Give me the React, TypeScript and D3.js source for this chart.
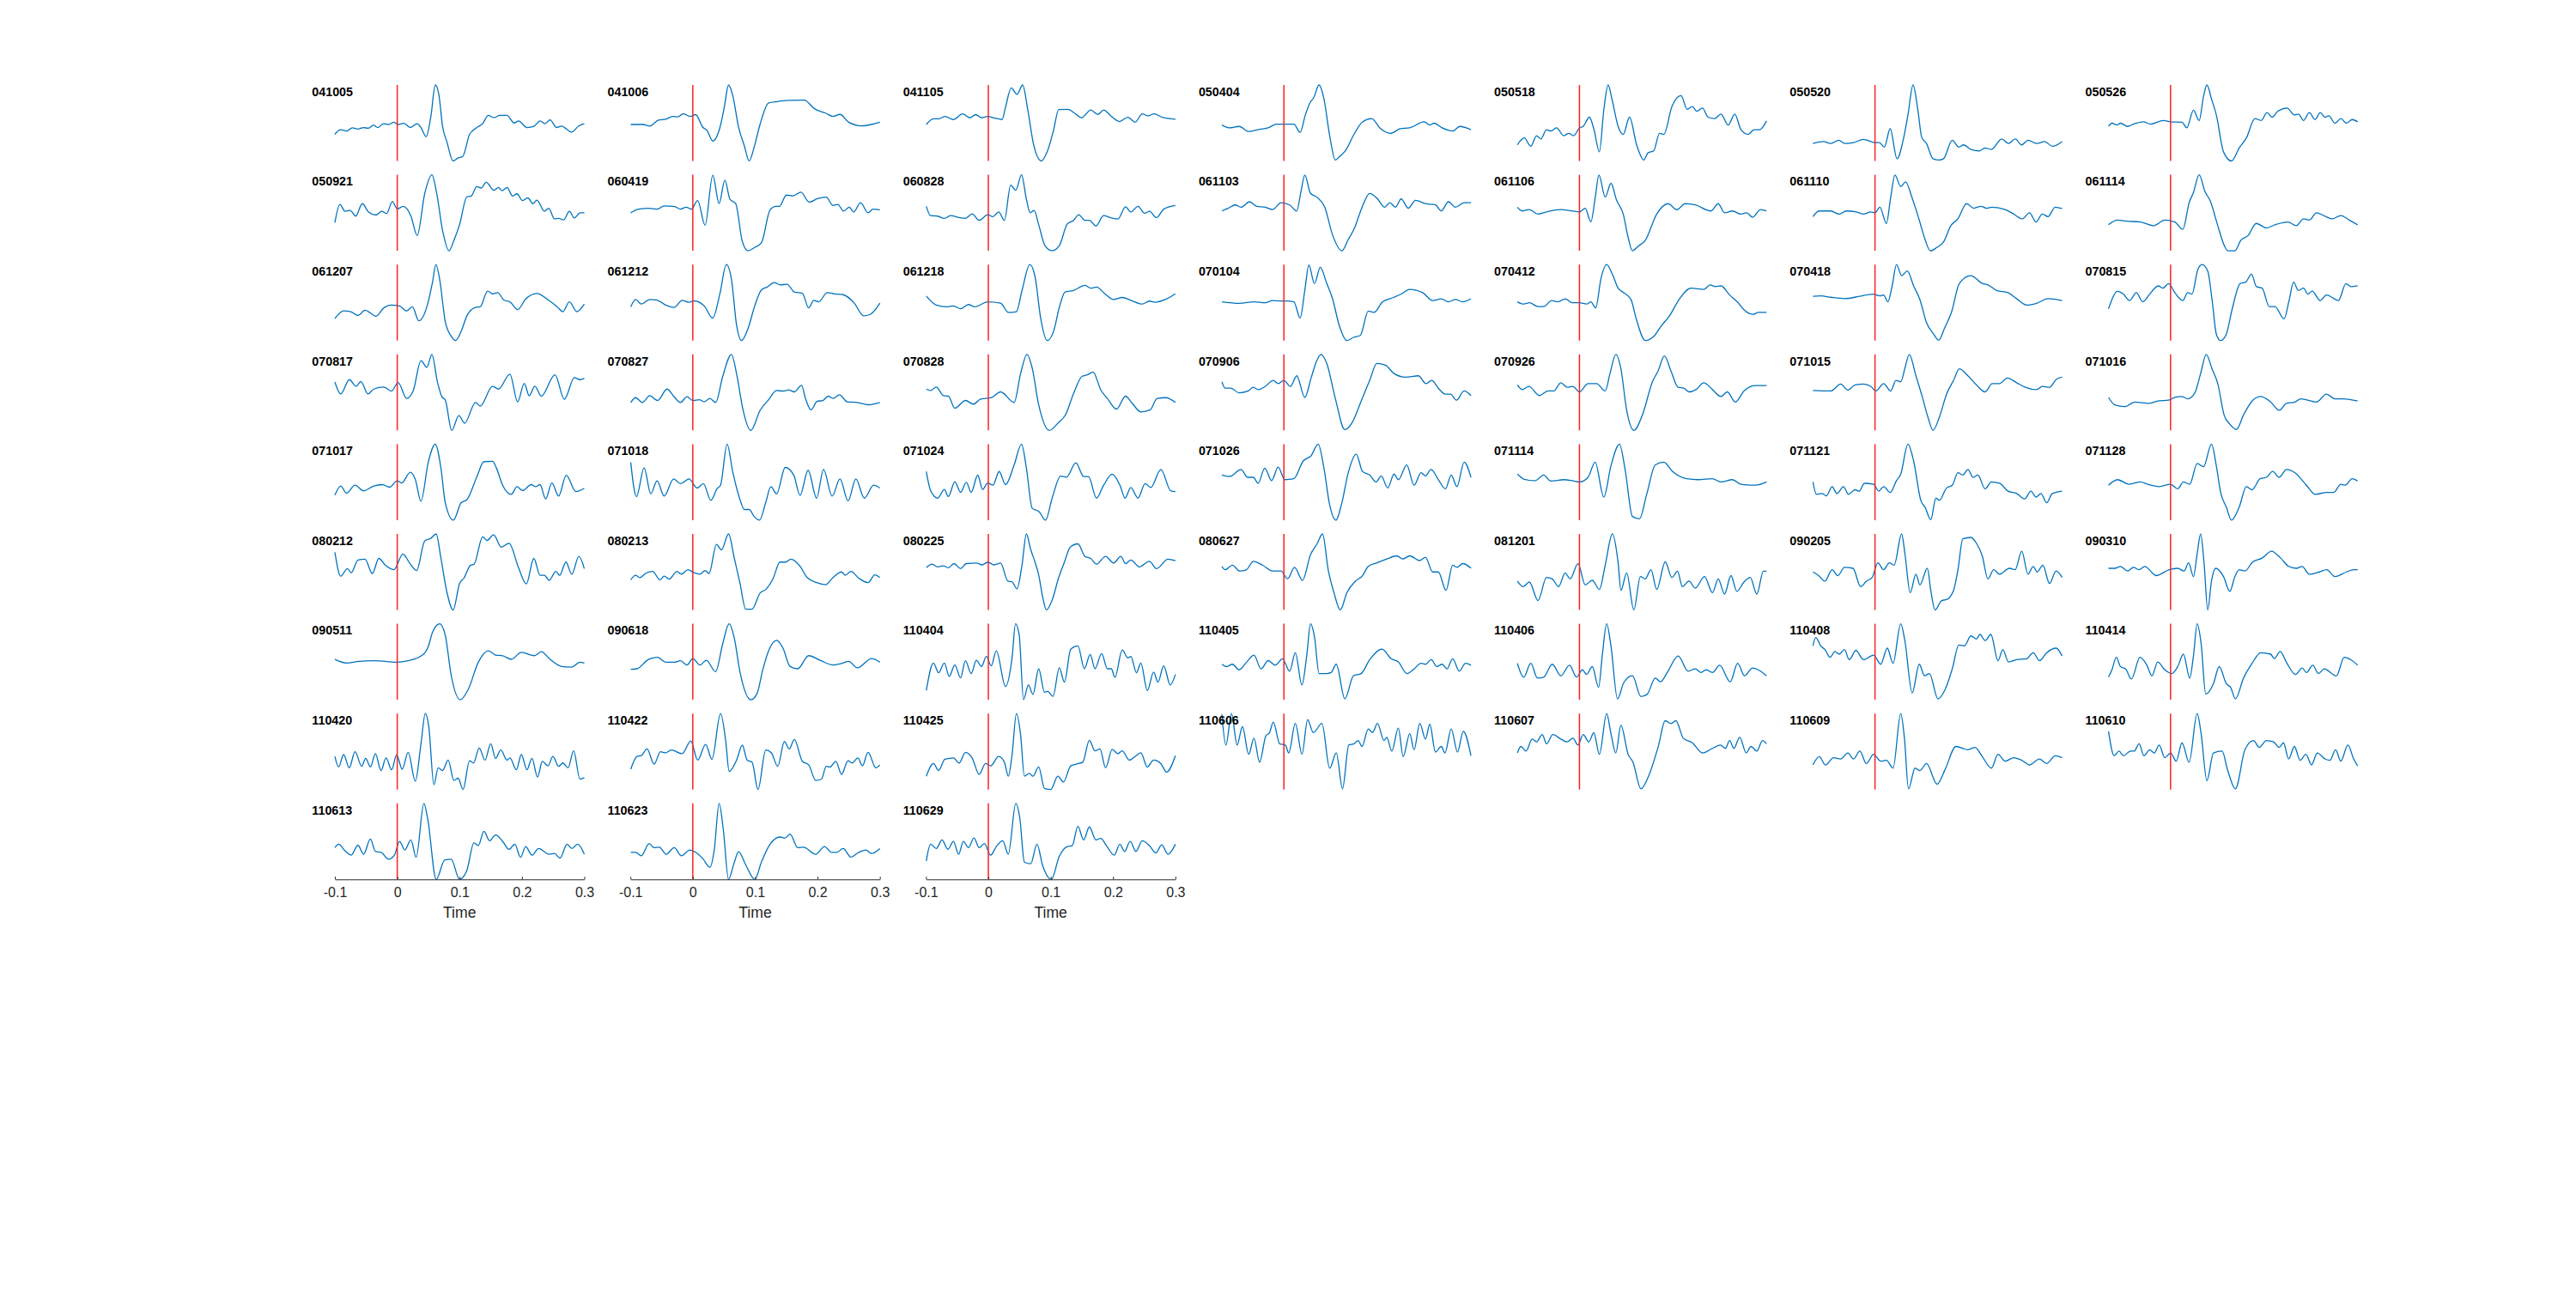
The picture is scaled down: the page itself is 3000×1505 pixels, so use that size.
import React, { useEffect, useRef } from "react";
import * as d3 from "d3";

type Pt = [number, number]; // [time in ms, amplitude scaled 0..100 within its panel]

// one trace per event at its turning points
const w041005: Pt[] = [[-100,35],[-91,41],[-81,39.5],[-72,43.6],[-63,42],[-54,44],[-47,43],[-38,47],[-31,44],[-22,49],[-14,48],[-5.5,51],[1.4,48],[10.6,49.6],[21,44],[32,49],[38,44],[46.4,32],[54,59],[61,100],[67,86],[72.6,46],[79.5,25.6],[89.6,0],[98,4],[105,6],[116,35],[127.6,44],[136.8,49],[146,60],[155,57],[164.6,60],[176,60],[187.6,50],[194.5,52.6],[208,44],[219.8,46],[229,52.6],[237,49],[245,54],[255.6,44],[263.4,46],[279.5,38],[291,46],[300,49]];
const w041006: Pt[] = [[-99.5,48],[-80,48],[-69,46],[-55,53.8],[-43.6,55],[-32,58.6],[-24,58],[-15,62.4],[-4.6,58.6],[4.6,61],[16,44.4],[23,40],[32,26.3],[43.6,44.4],[50.5,70.7],[57.3,100],[64.2,85.7],[73.4,44.4],[82.6,20],[90.4,0],[98.6,18.8],[107.8,48],[121.6,76.3],[135.3,78.2],[153.7,79.7],[178.9,80],[195,68.8],[213,63],[224.8,58.6],[236,61.3],[250,51],[270.6,46.2],[300,51]];
const w041105: Pt[] = [[-99.5,48],[-88,55.6],[-79,55.6],[-69.7,58.6],[-56,54.5],[-41.3,62],[-29.4,56.8],[-20.2,61],[-11,56.8],[-1,58.6],[10.5,56.4],[22,54.5],[27.5,70.7],[36.7,96.2],[45.9,87.6],[55,100],[63.3,67],[72.5,21.8],[84.9,0],[95.4,14.3],[104.6,40.6],[112.8,67.7],[127.5,68],[139,62.4],[149.5,56.8],[164.2,67],[175.7,61.3],[184.9,67],[196.3,59.4],[210,51.9],[223.9,57.5],[235.3,51],[246.8,62],[256,59.4],[266,62],[279,57.5],[300,55]];
const w050404: Pt[] = [[-99.5,47.3],[-87,43.6],[-72,45.5],[-56.4,38.8],[-41.3,41.2],[-25.2,43.6],[-11.5,48.5],[16,48.5],[26,37.6],[34.4,60.6],[41.3,75.8],[48,83.6],[56.4,100],[64.2,81.8],[73.4,33.3],[82.6,1.2],[89.4,6],[98.6,13.3],[112.4,35],[126,51.5],[140.8,55.8],[153.7,43.6],[171,36.4],[186.7,42.4],[201.8,43.6],[224.8,51.5],[234,47.3],[240.8,49.7],[253.7,43.6],[270.6,39.4],[282,45.5],[300,41.2]];
const w050518: Pt[] = [[-99.5,21.2],[-88.5,30.3],[-78,19.4],[-68.8,33.3],[-62,29],[-52.8,41.2],[-45.9,39.4],[-36.7,43.6],[-25.2,33.3],[-17,36.4],[-9.2,33.3],[0,43.6],[6,45.5],[16,57.6],[23,42.4],[32,12],[39,66.7],[45.9,100],[52.8,78.8],[62,45.5],[70.2,35],[80.3,57.6],[91.7,21.2],[103.2,1.2],[110,10.9],[119,13.3],[128.4,36.4],[135.3,35],[148.2,71.5],[162.8,86],[172.9,67.9],[181,71.5],[188,65.5],[197.2,69.7],[206.4,57.6],[217,55.8],[227,61.8],[238.5,47.3],[249,61.8],[259,41.2],[270.6,35],[279.8,41.2],[289,41.2],[300,52.7]];
const w050520: Pt[] = [[-99.5,23],[-82.6,25.5],[-71,23],[-58.3,27.3],[-48,23],[-34.4,24.2],[-18.3,28.5],[0,24.2],[6.9,24.2],[15,18.2],[24.3,42.4],[35.3,3],[45.9,30.3],[52.8,60.6],[61,100],[68.8,66.7],[74.8,31.5],[82.6,23],[93,3],[103.2,1.2],[110,3],[123.9,27.3],[134.4,18.2],[142.2,21.2],[153.7,15.2],[167.4,13.3],[176.6,17],[186.7,15.2],[203.2,29],[214.2,23],[224.8,29],[235.3,21.2],[245.4,27.3],[259.2,23],[272,25.5],[284.4,19.4],[300,25.5]];
const w050526: Pt[] = [[-99.5,45.5],[-94,49.7],[-85.8,47.3],[-80.3,49.7],[-68.8,45.5],[-59.6,48.5],[-43.6,51.5],[-32,48.5],[-11.5,53.3],[0,51.5],[18.3,50.9],[26.1,43.6],[36.7,66.7],[45.9,53.3],[52.8,84.8],[58.3,100],[65.6,81.8],[73.4,60.6],[84.9,12],[97.7,0],[110,17],[121.6,30.3],[135.3,55.8],[145.4,53.3],[154.6,63.6],[162.8,57.6],[172,65.5],[186.7,69.7],[198.6,60.6],[205,61.8],[213.3,53.3],[222.5,63.6],[231.7,54.5],[240,63.6],[247.7,57.6],[253.7,59.4],[263.8,49.7],[273,55.8],[282,49.7],[291.3,54.5],[300,51.5]];

const w050921: Pt[] = [[-100,37],[-92,61],[-83.7,52],[-75.4,53],[-66.7,45.6],[-56,62],[-46,51],[-34,47],[-24.8,52],[-17,49],[-7.8,65],[0,55],[9.7,58.5],[22,45.6],[32,20],[44,75],[55.6,100],[63.4,75],[72.6,27],[83,0],[91,14],[100,34.4],[111.5,70.7],[118.6,72],[127.6,84.4],[134.6,82.6],[142.5,90],[155.4,79.6],[162.3,83.3],[168.3,79],[176,83.3],[185,72],[192,75],[201,66],[209.4,69.6],[217.5,62],[224,66.7],[236,52],[243,56],[252,42],[259,42.6],[267,40.7],[276,52],[284,43.3],[293.3,50],[300,50]];
const w060419: Pt[] = [[-99.5,50],[-87,54.8],[-71,56],[-57,54.8],[-46,58.9],[-30,58.5],[-19.7,54.8],[-10.5,57.4],[-2.3,54.8],[7.8,66],[19.7,33.7],[32,99.3],[42.2,62.2],[51.4,93],[59.6,67.8],[68.8,62.2],[79.4,12.2],[88.5,0],[98.6,4],[110,10.4],[123.9,53.7],[133,58.5],[139,58.5],[150,73.3],[160.5,72.2],[173.4,77],[186.7,64],[199.5,68.5],[214,70.7],[224.8,59.6],[232.6,61],[241.7,52.2],[251,57.4],[258,51],[269,63.3],[281,50],[289,54.8],[300,54]];
const w060828: Pt[] = [[-99.5,58.5],[-92.7,46.3],[-81.2,45.6],[-70.6,42.6],[-60.5,46.3],[-46.8,43.7],[-36.7,42.6],[-26,48.5],[-14.7,40],[-0.9,47.4],[7.3,44.8],[16.5,51],[25.7,40],[35.8,86.3],[44,79.6],[53.2,100],[61,67.8],[67,50],[73.4,53],[80.7,34.4],[90.8,6.7],[102.3,0],[113.8,6.7],[126.6,35.2],[136.7,40],[145,47.4],[155,40],[162,40],[172.5,32.6],[184.9,46.3],[195.4,43.7],[207.8,41.8],[220,57.8],[228.4,51],[240,58.5],[250.5,49.3],[258.3,51.9],[269.7,43.7],[281.2,54.8],[300,59.6]];
const w061103: Pt[] = [[-99.5,52.4],[-89.4,56],[-78,60.3],[-68.8,57.3],[-55,64.5],[-43.6,58.5],[-29.8,57.3],[-18.3,54.2],[-4.6,63.3],[9.2,60.3],[20.6,52.4],[27.5,78.5],[33.5,99.7],[42.7,75.5],[52.8,70.6],[65.6,57.3],[78,20.9],[93,0],[103.2,14.8],[113.3,30],[123.9,54.2],[137.6,75.5],[149,69.4],[162,57.3],[169.7,63.3],[178.9,57.3],[188,68.2],[199.5,56],[211,66.4],[227,62],[243,60.3],[252.3,52.4],[263.8,64.5],[275,57.3],[289,63.3],[300,63.3]];
const w061106: Pt[] = [[-99.5,57.3],[-91.7,52.4],[-80.3,54.2],[-66.5,48.2],[-52.8,51.2],[-29.8,54.2],[-11.5,52.4],[0,51.2],[9.2,56],[18.3,38],[25.2,69.4],[31.2,99.7],[41.3,70.6],[50.5,88.8],[59.6,66.4],[70.2,48.2],[78,17.9],[84.9,0],[94,5.8],[105.5,13.6],[123.9,48.2],[142.2,62],[156,54.2],[169.7,62],[185.8,60.3],[211,52.4],[222.5,62],[232.6,50],[245.4,52.4],[259,48.2],[268.3,50],[277.5,44],[290.4,54.2],[300,52.4]];
const w061110: Pt[] = [[-99.5,45],[-89.4,52.4],[-71,52.4],[-57.3,48.2],[-45.9,52.4],[-29.8,51.2],[-18.3,48.2],[-6.9,51.2],[0,50],[7.8,57.3],[18.3,36],[25.2,70.6],[32,99.7],[41.3,84.5],[49,90.6],[59.6,69.4],[71,40.3],[80.3,14.8],[88.5,0],[98.6,4],[110,11.8],[121.6,33],[133,42],[146.8,62],[158.3,56],[169.7,58.5],[178.9,56],[188,57.3],[208.7,54.2],[222.5,48.2],[236.2,42],[247.7,50],[258.3,37.9],[268.3,48.2],[277.5,45],[289,57.3],[300,55.5]];
const w061114: Pt[] = [[-99.5,34.2],[-85,40.3],[-71,39],[-48,37.9],[-27.5,33],[-9.2,40.3],[6.9,37.9],[19.7,28.2],[29.8,63.3],[36.7,76.7],[45.9,100],[55,78.5],[64.2,64.5],[75.7,33],[85.8,7.6],[91.7,0],[103.2,0],[112.4,13.6],[123.9,19.7],[137.6,36],[153.7,30],[167.4,34.2],[188,37.9],[201.8,33],[213.3,42],[222.5,40.3],[234,50],[245.4,46.4],[259,42],[273,46.4],[286.7,40.3],[300,34.2]];

const w061207: Pt[] = [[-100,29],[-86,39],[-74.5,38],[-63,33],[-51.5,40],[-34,32],[-21.6,43],[-10,46.7],[3.7,45.6],[15,39],[24.4,44.4],[34.5,26],[49.7,51],[56.6,77],[62,100],[68,80.7],[77,25],[86.4,6],[93.3,0],[102.5,12],[111.7,32.6],[125.5,43.7],[133,44.4],[145,65],[153,61.5],[161,63],[171.5,53],[180.7,51],[193,40.7],[206,54.8],[224,62],[242.8,53],[256.6,44.4],[265.7,38],[276,51],[288,38],[300,48]];
const w061212: Pt[] = [[-99.5,44.4],[-91.7,54],[-82.6,48],[-69,54],[-56.4,53],[-43.6,46.7],[-29.8,43.7],[-17,53],[-6.9,50.4],[2.3,52.2],[18.3,45.6],[32,29.6],[43.6,62.2],[53.7,100],[62,80.7],[70,21.5],[78,0],[89.4,17.8],[98.6,43.7],[110,66.7],[119,70.4],[130.7,76.3],[140,73.3],[151,74],[162.8,64],[175.7,62.2],[185.8,43],[194,53],[201.8,51],[215.6,63],[227,61.5],[240.8,60.4],[259,49.3],[273.9,32.6],[284.4,34.4],[300,49.3]];
const w061218: Pt[] = [[-99.5,58.5],[-83.5,46.7],[-67.4,44.4],[-56,45.6],[-44.5,41.9],[-32,47.4],[-21.6,44.4],[-1,51],[19.7,49.3],[32,37],[45,38],[54,66],[66.5,100],[74.8,84.4],[84,29],[94.5,0],[104.6,12.2],[113.8,43.7],[123,64],[136.7,66],[155,72.6],[164.2,68.9],[173.4,70.4],[187,61.5],[200.9,54],[214.7,56.7],[228.4,53],[246.8,48],[258.3,51.9],[267.4,50.4],[283.5,54],[300,61.5]];
const w070104: Pt[] = [[-99.5,51],[-71,49],[-48,51],[-29.8,49.7],[-18.3,52.7],[-2.3,52],[6,52],[16,51],[26.1,29.7],[33.5,66],[40,99.4],[49,75],[58.3,96.4],[68.8,75],[78,55],[88.5,20.6],[101,0],[111.5,4.2],[122.5,6.7],[135.3,38.8],[144.5,37],[158.3,51],[176.6,57],[188,61.2],[201.8,67.3],[222.5,63],[238.5,52.7],[252.3,55],[263.8,51],[275,54],[286.7,51],[300,55]];
const w070412: Pt[] = [[-99.5,51],[-89.4,48],[-80.3,49.7],[-66.5,44.8],[-57.3,44.8],[-44.5,52.7],[-34.4,51],[-23,55],[-11.5,49.7],[0,49.7],[11.5,48],[18.3,51],[26.1,43],[34.4,81.2],[43.6,100],[52.8,87.3],[62,69],[71,63],[82.6,54],[91.7,26.7],[105.5,0],[119.3,5.5],[130.7,18.8],[144.5,32.7],[160.5,55],[178.9,69],[199.5,67.3],[209.6,73.3],[217.9,71],[227,72],[240.8,60],[254.6,49.7],[263.8,40.6],[278.4,34.5],[286.7,37],[300,37]];
const w070418: Pt[] = [[-99.5,58.2],[-87,58.8],[-71,57],[-48,55.2],[-25.2,58.2],[-3.2,61.2],[7.8,58.8],[13.8,60],[20.6,51],[27.5,72],[34.4,100],[42.7,85.5],[51.8,91.5],[61.9,72],[72,54],[82.6,23.6],[94,8.5],[102.3,0.6],[111.5,16.4],[122.5,37],[135.3,75.2],[153.7,85.5],[172,75.2],[181,73.3],[195,66],[213.3,63],[227,55.2],[243,46.7],[259,49],[277.5,55.2],[300,52.7]];
const w070815: Pt[] = [[-99.5,41.8],[-94,54],[-85.8,64.8],[-75.7,61.2],[-65.6,52.7],[-55,63],[-44.5,51],[-34.4,60],[-19.7,72],[-12.4,69],[-3.2,75],[6.9,63],[19.7,52.7],[27.5,63],[34.4,61.2],[43.6,93.3],[50.5,100],[59.6,91.5],[66.5,54],[73.4,8.5],[80.3,0],[89.4,8.5],[98.6,40.6],[111.5,75],[120.6,77],[129.8,87.3],[137.6,71],[146.8,69],[158.3,44.8],[167.4,44.8],[182,28.5],[190.4,54],[197.2,77],[205,66],[213.3,69],[220,61.2],[227,65],[240,52.7],[250,60],[269.2,52.7],[281.2,75],[289,71],[300,72]];

const w070817: Pt[] = [[-100,63.7],[-90.6,48],[-76.8,66.7],[-66,58],[-58.4,64.4],[-47,48],[-37.7,54.3],[-21.6,57],[-9,51.7],[1.4,63],[15,42],[25.7,52.4],[38,91.8],[47.4,83],[55.6,100],[64.4,63.7],[71.7,44],[77,40],[87.4,0],[98.9,19.5],[108,9.4],[125.5,36.7],[133,32],[153,58],[162.3,54.3],[180.7,74],[193,37.5],[203.7,61.8],[211.5,45.7],[220.7,58],[231,45],[252.9,73],[268,41],[284,69.3],[293.3,66.7],[300,68.5]];
const w070827: Pt[] = [[-99.5,36.7],[-91.7,43],[-81,36.7],[-69,45.7],[-56.4,39.3],[-41.3,54.3],[-30.7,45],[-19.7,36.7],[-9.2,44.2],[0,39.3],[10.5,40.4],[18.3,37.5],[27.5,42],[36.7,36.7],[48,71],[62,100],[71,71],[80.3,28],[93,0],[107.8,26],[121.6,40.4],[134.4,52.4],[145.4,51.7],[153.7,53.2],[162.8,50.6],[174.3,59.2],[181,41.2],[189.4,27],[199.5,38.2],[208.7,39.3],[217,45],[224.8,42],[235.3,46.8],[247.7,37.5],[263.8,36.7],[282,33.7],[300,36.7]];
const w070828: Pt[] = [[-99.5,54.3],[-92.7,52.4],[-83.5,57],[-72,45.7],[-64.2,45],[-53.7,29.2],[-36.7,39.3],[-23.9,34.5],[-12.4,41.2],[4.6,43],[19.7,50.6],[41.3,36.7],[51.8,75],[62,100],[70.2,82.4],[80.7,33.7],[97.7,0],[111.5,9.4],[123.9,20.6],[136.7,48.7],[150.5,71.2],[158.7,73],[167.9,76.8],[180.3,53.2],[190.8,42],[205.5,28],[220,45],[230.7,35.6],[244.5,24.3],[259.6,27],[270.6,42],[284.4,43],[300,36.7]];
const w070906: Pt[] = [[-99.5,64],[-94,55.5],[-85,55.5],[-72,49.4],[-57.3,51.8],[-49,56.7],[-41.3,53.6],[-29.8,57.9],[-17,65.8],[-9.2,61.5],[0,65.8],[10.5,57.9],[20.6,71.8],[33.5,43.3],[43.6,68.8],[51.8,90],[59.6,100],[68.8,88],[82.6,41.5],[97.7,1],[110,11],[123.9,38.5],[137.6,65.8],[149,88],[162.8,85.8],[176.6,74.8],[195,70],[215.6,71.8],[228,61.5],[237,65.8],[247.7,55.5],[259,47.6],[267.4,47.6],[276.6,39.7],[289,51.8],[300,45.8]];
const w070926: Pt[] = [[-99.5,59.7],[-91.7,53.6],[-81,57.9],[-64.2,45.8],[-50.5,51.8],[-41.3,51.8],[-29.8,62.7],[-19.7,56.7],[-10.5,57.9],[0,50.6],[13.8,61.5],[27.5,61.5],[41.3,51.8],[49,74.8],[58.3,100],[66.5,80.9],[75.7,26.4],[87.2,0],[101,20.3],[117,64],[126,78],[136.2,97.9],[146.8,78],[158.3,56.7],[167.4,55.5],[175.7,50.6],[186.7,53.6],[199.5,62.7],[211,55.5],[227,44.5],[237,50.6],[250,37.3],[263.8,51.8],[282,59],[300,59]];
const w071015: Pt[] = [[-99.5,52.4],[-71,51.8],[-55,60.9],[-43.6,53],[-32,59.7],[-18.3,60.9],[-6.9,57.9],[1.4,51.8],[13.8,61.5],[25.2,51.8],[33.5,65.8],[41.3,64],[48,82],[55,100],[65.6,71.8],[75.7,44.5],[84.9,17.3],[93,0],[103.2,17.3],[114.7,47.6],[126,65.8],[135.3,80.9],[149,71.8],[162.8,59.7],[176.6,50.6],[188,61.5],[199.5,61.5],[212.4,68.8],[227,62.7],[240.8,56.7],[259,53.6],[268.3,57.9],[279.8,56.7],[291.3,67.6],[300,70]];
const w071016: Pt[] = [[-99.5,43.3],[-89.4,33.6],[-73.4,31.2],[-57.3,37.3],[-34.4,35.5],[-20.6,38.5],[-3.2,39.7],[6.9,43.3],[18.3,44.5],[27.5,41.5],[39,49.4],[48.2,74.8],[57.3,100],[66.5,80.9],[75.7,61.5],[85.8,20.3],[95,8.2],[105.5,1],[117,20.3],[130.7,38.5],[144.5,44.5],[160.5,37.3],[174.3,26.4],[185.8,35.5],[199.5,37.3],[208.7,41.5],[233.9,37.3],[250,47.6],[263.8,41.5],[277.5,41.5],[300,38.5]];

const w071017: Pt[] = [[-100,32.8],[-90.6,45],[-81.4,35.5],[-67.6,46],[-54,38.5],[-37.7,45],[-24,46.8],[-12.4,43.4],[0,51.7],[7,49],[21,63],[29,53.6],[38,25],[49.7,76],[61,100],[70,68.7],[77,23],[90,0],[102.5,23],[111.7,27],[127.6,57],[139,77],[153,77.4],[159,68.7],[169,46],[183,34],[192,44],[201,39],[215,46.8],[222,44],[229,46.8],[238,28],[248,49],[258.8,31.7],[271,59],[286.4,37.7],[300,42]];
const w071018: Pt[] = [[-99.5,76],[-90.4,31],[-78,68.7],[-67.4,34.7],[-57.3,51.7],[-45.9,31.7],[-30.7,54.3],[-19.7,48],[-6,54.3],[6.9,42.3],[17,48],[28.9,26],[39,41.5],[44.5,46],[55,100],[64.2,63],[75.7,27],[82.6,14],[90.4,14],[98.6,4.5],[106.9,0],[117,23.4],[125.2,44],[134.4,34.7],[148.2,69.4],[162,59],[172,32.8],[184.9,65.7],[198.6,29],[209.6,66.8],[223.4,31.7],[236,54.3],[249,25.3],[261.5,54.3],[275,29],[290,46],[300,42.3]];
const w071024: Pt[] = [[-99.5,64],[-92.7,39.2],[-81.2,29],[-70.6,40.4],[-64.2,31],[-53.7,50.6],[-44.5,36.6],[-35.3,49.8],[-27.5,36.6],[-17,59.2],[-9.2,40.4],[-1,49],[7.3,46],[17.4,64],[27.5,46.8],[41.3,72.5],[53.2,100],[61,68.7],[70.2,15.8],[81.7,11],[91.7,0],[102.3,29],[116,58],[125.2,56.6],[140.4,75.5],[152.8,57.4],[160.6,57.4],[173.4,29],[184.9,46],[198.6,60.4],[211,46],[219.3,29],[228.4,43],[240,29],[251.4,48],[260.6,43],[276.6,66.8],[292.7,38.5],[300,37.7]];
const w071026: Pt[] = [[-99.5,59.4],[-87,57.6],[-68.8,66.7],[-58.3,56.4],[-49,56.4],[-41.3,48.5],[-30.7,68.5],[-19.7,52],[-9.2,69.7],[1.4,53.3],[16,54.5],[30.7,77.6],[43.6,84.8],[55,100],[64.2,68.5],[73.4,20],[83.5,0],[93,23],[103.2,62.4],[116,86.7],[126,64.2],[137.6,59.4],[148,50.3],[156,58.2],[166.5,42.4],[176.6,60.6],[183.5,53.3],[197,72.7],[208.7,46],[220,62.4],[227,58.2],[236,66.7],[247.7,53.3],[259,41.2],[268.3,59.4],[277.5,44.2],[289,76.4],[300,56.4]];
const w071114: Pt[] = [[-99.5,60.6],[-87,53.3],[-71,52],[-57.3,59.4],[-45.9,51.5],[-25.2,53.3],[-11.5,52],[0,50.3],[13.8,56.4],[25.2,76.4],[39,30.3],[50.5,71.5],[64.2,100],[73.4,65.5],[84.9,4.8],[96.3,1.8],[107.8,33.9],[121.6,72.7],[135.3,76.4],[149,64.2],[172,54.5],[190.4,53.3],[213,54.5],[227,50.3],[245.4,53.3],[259,47.3],[282,46],[300,50.3]];
const w071121: Pt[] = [[-99.5,50.3],[-94,34],[-85,35],[-78,32],[-68.8,44.2],[-61,35],[-50.5,44.2],[-42.7,34],[-32,40],[-25.2,38.2],[-17,48.5],[-2.3,47.3],[6,38.2],[13.8,44.2],[24.3,36.4],[34.4,52],[41.3,60.6],[52.8,100],[62,77.6],[73.4,26],[80.3,17],[89.4,0.6],[97.7,29],[103.2,26],[114.7,42.4],[123.9,46],[133,62.4],[140.8,59.4],[149,66.7],[157.3,56.4],[165,59.4],[176.6,41.2],[186.7,50.3],[199.5,48.5],[213.3,38.2],[227,35],[240,27.9],[250,38.2],[258.3,30.3],[266,35],[275.2,23],[284.4,35],[300,38.2]];
const w071128: Pt[] = [[-99.5,46],[-85,53.3],[-66.5,47.3],[-48.2,50.3],[-36.7,47.3],[-18.3,44.2],[0,47.3],[11.5,41.2],[20.6,50.3],[30.7,47.3],[42.7,74.5],[52.8,70.3],[65.6,100],[73.4,71.5],[80.3,36.4],[89.4,17],[97.7,0],[110,17],[121.6,44.2],[130.7,40],[143.6,54.5],[153.7,56.4],[163.8,64.2],[174.3,56.4],[185.8,66.7],[199.5,62.4],[217.9,46],[231.7,34],[250,36.4],[261.5,36.4],[273,47.3],[280,46],[291.3,54.5],[300,51.5]];

const w080212: Pt[] = [[-100,76],[-90.6,44.4],[-80,54.4],[-73.8,49],[-63,65.6],[-51.7,66.7],[-40,48],[-29.4,67.8],[-19.3,59],[-5.5,53],[9.2,73.7],[19.8,61.8],[31,51.8],[44,90.7],[54,94.4],[62.4,100],[70,68.5],[79.5,24],[89.6,0],[100,35],[107,41.8],[117.7,59],[123,60],[137,96.3],[144,91.5],[154.5,98.9],[167,82.6],[179.3,87.8],[194.5,55.6],[207,34.4],[219,67.8],[229,45.6],[236,45.6],[243.7,39],[254.3,50.7],[260.4,45.6],[270.6,63],[279.8,47],[291.3,70.4],[300,54.4]];
const w080213: Pt[] = [[-99.5,39.6],[-91.7,45.6],[-84.9,42.6],[-75.7,48],[-64.2,50.7],[-52.8,39.6],[-45.9,44.4],[-38,40.7],[-25.2,50.7],[-18.3,47],[-7.8,53],[1.4,49.3],[11.5,47],[19.7,51.9],[26,48],[38,86.3],[45.9,78.9],[57.3,100],[66.5,68.5],[75.7,35.2],[84.9,1],[95,1],[107.8,22.2],[117,27],[128.4,40.7],[139.9,63],[149,63],[157.3,66.7],[172,57.4],[183.5,42.6],[198.6,36],[213,33.3],[224.8,42.6],[238.5,50],[244.5,45.6],[253.7,50.7],[266,41.9],[281,36],[292,46.3],[300,42.6]];
const w080225: Pt[] = [[-99.5,55.6],[-90.4,60.4],[-81.2,56.7],[-72,58],[-64.2,55.6],[-55,61],[-44.5,54.4],[-35.3,61],[-19.3,61.8],[-10,59.3],[-1,63],[9.2,59.3],[19.7,61.8],[31.2,38],[38,37],[45.9,27.8],[54,59.3],[61,100],[67.9,79.6],[74.8,63],[80.7,46.3],[87.2,16.7],[93.1,0],[102.3,13],[112.8,42.6],[122,63],[131.2,82.6],[143.6,87],[155,70.4],[164.2,67.8],[173.4,60.4],[188,70.4],[200.9,61.8],[212.4,70.4],[220,61],[228.4,65.6],[242.2,56.7],[258.3,64],[269.7,54.4],[288,66.7],[300,64.8]];
const w080627: Pt[] = [[-99.5,57.3],[-94,53],[-82.6,59],[-71,51.2],[-60,53],[-49,64],[-34.4,59],[-18.3,51.2],[-4.6,51.2],[6,41],[17,56],[29.8,39],[42.7,73],[52.8,86.4],[62,100],[71,53],[80.3,22.7],[90.4,0],[101,22.7],[114.7,37.9],[126,45],[135.3,57.3],[149,62],[165,67],[181,71.2],[190.4,67],[201.8,71.2],[217.9,65],[227,69.4],[238.5,50],[247.7,50],[260,25.8],[270.6,59],[277.5,56],[286.7,61],[300,55]];
const w081201: Pt[] = [[-99.5,37.9],[-90.4,30.6],[-80.3,36.7],[-66.5,12.4],[-52.8,42.7],[-43.6,40.9],[-33.5,30.6],[-23,48.8],[-15,40.9],[-2.3,60.9],[9.2,33],[20.6,39],[32,27],[41.3,59],[52.8,100],[62,62],[66.5,25.8],[75.7,48.8],[87.2,0],[97.7,44],[105.5,40.9],[114.7,53],[123.9,27],[137.6,63.3],[148.2,42.7],[157.3,51],[165,30.6],[175.7,37.9],[185.8,28.8],[200.5,44],[213.3,22.7],[222.5,40.9],[232.6,20.9],[243,45.2],[252.3,24.5],[263.8,36.7],[273.9,42.7],[284.4,20.9],[295,51],[300,51]];
const w090205: Pt[] = [[-99.5,50],[-90.4,45.2],[-80.3,37.9],[-68.8,53],[-59.6,45.2],[-49,56],[-35.3,54.8],[-23,30.6],[-13.8,37.9],[-4.6,42.7],[4.6,62],[13.8,53],[23,62],[30.7,59],[42.7,100],[48,74],[56.4,22.7],[65.6,47],[72,33],[84,54.8],[89.4,25.8],[96.3,0],[107,12.4],[114.7,13.6],[126,25.8],[133,53],[140.8,93.6],[153.7,95.5],[162.8,87.6],[172,71.2],[181,40.9],[190.4,53],[199.5,47],[215.6,54.8],[224.8,53],[235.3,77.3],[245.4,47],[253.7,57.3],[260,50],[269.2,59],[279.8,34.8],[290.4,51.2],[300,42.7]];
const w090310: Pt[] = [[-99.5,54.8],[-89.4,54.8],[-80.3,57.3],[-68.8,51.2],[-59.6,56],[-50.5,53],[-41.3,57.3],[-23,45.2],[-2.3,53],[11.5,54.8],[21.6,51.2],[29,62],[36.7,44],[42.7,74.2],[48.2,100],[53.7,62],[59.6,0],[65.6,37.9],[72,54.8],[84.9,44],[95,24.5],[103.2,44],[110,53],[119.3,51.2],[131.7,63.3],[146.8,68.2],[162,77.3],[176.6,68.2],[189.4,57.3],[201.8,54.8],[211,57.3],[222.5,47],[238.5,50],[250,53],[263.8,44],[282,50],[293.6,53],[300,53]];

const w090511: Pt[] = [[-100,53],[-81.4,48.3],[-61,50.6],[-38,51.3],[-19.3,50.6],[-1,49.4],[17.5,51.3],[40.5,58.8],[49.7,70],[56.6,88.8],[68,100],[77,85],[86.4,32.6],[101,0],[114,13.9],[130,49.4],[146,64.4],[157.8,58.8],[169,58],[183,53.2],[199,62.5],[220,58],[231,63.3],[245,53.2],[263.4,43.8],[279.5,43],[293,49.4],[300,48.3]];
const w090618: Pt[] = [[-99.5,40],[-89.4,40.8],[-71,53],[-56.4,55.8],[-43.6,49.4],[-29.8,49.4],[-19.7,51.3],[-9.2,45.7],[0,54.3],[11.5,45.7],[21.6,52],[36.7,37],[48,73.8],[58.3,100],[66.5,81.3],[75.7,36.3],[93,0],[103,8.2],[112.4,40],[122.5,66.3],[134.4,78.3],[144.5,68.2],[156,43.8],[168.3,40.8],[185.8,58],[204,52],[224.8,45.7],[240.8,48.3],[250,50.6],[263.8,42],[286.7,54.3],[300,49.4]];
const w110404: Pt[] = [[-99.5,12],[-88,48.3],[-79.8,35.6],[-70.6,48.3],[-62.8,30.7],[-53.7,45.7],[-44.5,28.8],[-36.7,51.3],[-27.5,34.5],[-19.3,52],[-11,43.8],[-3.2,57],[4.6,44.6],[12.8,64.4],[27.5,17.6],[38,55],[43.6,100],[49.5,85],[56.4,0],[64.2,19.5],[71.6,7],[80.7,40.8],[90,10],[95.4,10.9],[103.7,4.5],[113.8,42],[122,23.2],[132,66.3],[143.6,70.8],[154,40.8],[163.3,59.6],[171,40.8],[181.7,60.7],[190.8,40.8],[197.2,40.8],[203,29.6],[214.7,65.5],[223.9,55],[228.4,57],[237.6,35.6],[244.5,48.3],[255,12],[265,36.3],[272,23.2],[281.2,44.6],[291.7,19.5],[300,33.3]];
const w110405: Pt[] = [[-99.5,46.7],[-91.7,43.6],[-82.6,46.7],[-72,39.4],[-59.6,49.7],[-48,58.8],[-36.7,40.6],[-25.2,51.5],[-13.8,45.5],[-2.3,54],[9.2,37.6],[18.3,61.8],[28.9,19.4],[36.7,58.8],[42.7,100],[49,83],[56.4,34.5],[68.8,34.5],[75.7,35.8],[84,46.7],[97.7,1.2],[111.5,31.5],[123.9,34.5],[137.6,52.7],[157.3,66.7],[172,54],[183.5,49.7],[197.2,34.5],[208.7,40.6],[220,47.9],[227,46.7],[236.2,52.7],[245.4,43.6],[253.7,46.7],[261.5,40.6],[270.6,54],[281.2,37.6],[291.3,47.9],[300,45.5]];
const w110406: Pt[] = [[-99.5,47.9],[-89.4,29.7],[-78,47.9],[-67.4,28.5],[-57.3,29.7],[-43.6,46.7],[-29.8,31.5],[-16,45.5],[-4.6,29.7],[4.6,39.4],[11.5,33.3],[20.6,43.6],[30.7,16.4],[36.7,58.8],[43.6,100],[50.5,70.9],[61,1.2],[71,22.4],[84.9,31.5],[98.6,4.2],[108.7,7.3],[121.6,28.5],[130,23.6],[140.8,35.8],[158.3,57.6],[174.3,37.6],[185.8,40.6],[195,35.8],[203,39.4],[213.3,35.8],[224.8,45.5],[241.7,23.6],[253.7,47.9],[264.7,31.5],[277.5,41.8],[286.7,39.4],[300,31.5]];
const w110408: Pt[] = [[-99.5,70.9],[-95,81.8],[-87,70.9],[-80.3,66],[-72,55.8],[-64.2,63.6],[-57.3,60],[-49,66],[-41.3,52.7],[-30.7,64.8],[-18.3,52.7],[-2.3,58.8],[9.2,46.7],[19.7,67.9],[28.9,47.9],[41.3,100],[48,77],[59.6,9],[71,46.7],[79.4,31.5],[87.2,34.5],[101,1.2],[112.4,13.3],[123.9,40.6],[134.4,72],[143.6,71],[153.7,84],[162.8,80],[168.3,86],[176.6,78],[185.8,86],[197.2,51.5],[205,66],[214,49.7],[227,52.7],[243,53.9],[253.7,61.8],[263.8,51.5],[275.2,61.8],[290.4,67.9],[300,57.6]];
const w110414: Pt[] = [[-99.5,29.7],[-94,39.4],[-87,55.8],[-80.3,43.6],[-72,40.6],[-62.8,27.3],[-49,55.8],[-38,45.5],[-29.8,31.5],[-20.6,49.7],[-9.2,39.4],[2.3,34.5],[11.5,43.6],[20.6,60],[30.7,28.5],[36.7,57.6],[42.7,100],[49,74],[56.4,7.3],[68.8,21.2],[78,43.6],[89.4,21.2],[96.3,16.4],[104,1.2],[117,28.5],[130.7,47.9],[144.5,61.8],[160.5,60],[166.5,54],[175.7,63.6],[186.7,47.9],[200.5,33.3],[211,41.8],[218,35.8],[228,45.5],[237.2,34.5],[246.3,40.6],[266,31.5],[278.4,55.8],[289,52.7],[300,45.5]];

const w110420: Pt[] = [[-100,43.5],[-94,29.7],[-86,46],[-77,28.6],[-67.6,49.8],[-57,30.5],[-50.6,41],[-43,29.7],[-35,47.2],[-26,25],[-18,41.6],[-9,26],[-1,45.4],[8,26.8],[17.5,49],[29,11],[38,60],[45,100],[50.6,82.5],[58.8,6.3],[65.7,28.6],[72.6,25],[81.6,38.7],[91,11.9],[97.7,14.9],[105.5,0],[116,38],[122.3,35],[131.5,54.6],[140.7,38.7],[149.9,60.2],[157.7,41],[166,52],[176,38.7],[180.7,41.6],[191,26],[199,46],[208,26],[216,41],[225,16.4],[232.6,37],[241.8,31.2],[249.6,43.5],[258.8,30.5],[265.7,35],[274,28.6],[282.8,51],[293,13.8],[300,15.6]];
const w110422: Pt[] = [[-99.5,26.8],[-89.4,43.5],[-82.6,44.6],[-73.4,53.5],[-62,33.5],[-51.8,49.8],[-43.6,48.3],[-34.4,52],[-17,47.2],[-3.2,64],[7.8,38.7],[20.6,59.5],[30.7,39.8],[44.5,100],[52.8,64],[58.3,23.8],[70.2,38.7],[79.4,58.4],[87.2,38.7],[95,36],[104.6,0],[117,52],[126,48.3],[136.2,30.5],[146.8,63.2],[154.6,53.5],[162.8,65.8],[175.7,37.2],[186,32.3],[197.2,11.9],[206.4,13.8],[214,30.5],[220,29.7],[229.4,37.2],[238.5,20],[249,38],[255.5,35],[264.7,41.6],[272,31.2],[281,49],[293.6,28.6],[300,32.3]];
const w110425: Pt[] = [[-99.5,17.5],[-88,34.2],[-79.8,25],[-69.7,39.8],[-56,41.6],[-46.8,35],[-36.7,49],[-26,41.6],[-14.7,20],[-4.6,34.2],[3.7,31.2],[16.5,43.5],[25.7,36],[32,17.5],[38,45.4],[45,100],[51.8,71.4],[57.8,17.5],[65.6,21.2],[71.6,17.5],[80.7,29.7],[90,1.5],[100,0],[111.5,17.5],[120.6,10],[132,31.2],[141.3,33.5],[151.4,36],[162,64.7],[171,51],[179,53.5],[188,28.6],[198.6,52.8],[207.8,47.2],[214.7,51],[226,38.7],[235.3,43.5],[244.5,48.3],[255,29.7],[265,38.7],[276.6,34.2],[285.8,23],[300,44.6]];
const w110606: Pt[] = [[-99.5,99],[-93,58.5],[-84,100],[-75,58.5],[-66.5,82.7],[-56.4,46.4],[-48,67.6],[-39,36],[-29,70.6],[-23,75],[-17,88.8],[-6.9,60.3],[2.3,58.5],[7.8,48.2],[18.3,87],[29,46.4],[38,91.8],[47.2,75],[61,87],[73.4,28],[84,48.2],[94,1],[104,58.5],[112.4,60.3],[119,64.5],[125.2,56.7],[135.3,79.7],[142.2,75],[150,87],[160.5,64.5],[165,68.8],[173,50.6],[183.5,80.9],[191.3,43.3],[201.8,73.6],[208.7,52.4],[218,87],[227,66.4],[234,85.8],[243,49.4],[252.3,56.7],[258.3,48.2],[268.3,79.7],[278.4,49.4],[287.6,76.7],[300,44.5]];
const w110607: Pt[] = [[-99.5,48.2],[-94,56.7],[-85.8,50.6],[-75.7,66.4],[-68.8,62.7],[-59.6,72.4],[-52.8,60.3],[-42.7,72.4],[-29.8,66.4],[-19.7,62.7],[-10.5,67.6],[-2.3,58.5],[6,72.4],[15,62.7],[23,74.8],[32,46.4],[43.6,100],[50.5,73.6],[58.3,48.2],[66.5,84.5],[78,46.4],[85.8,36],[98.6,1],[110,16],[126,55.5],[137.6,90.6],[146.8,86.9],[154.6,90.6],[166.5,67.6],[181,61.5],[197.2,48.2],[213.3,54.2],[226,58.5],[234,54.2],[240.8,64.5],[247.7,54.2],[256.9,68.8],[267.4,48.2],[275.2,56.7],[284.4,50.6],[293.6,64.5],[300,60.3]];
const w110609: Pt[] = [[-99.5,32.4],[-89.4,43.3],[-79.4,32.4],[-66.5,42],[-55,40.3],[-43.6,48.2],[-34.4,40.3],[-24.3,50.6],[-13.8,34.2],[-2.3,46.4],[9.2,37.3],[18.3,38.5],[29,28.2],[41.3,100],[47.2,67.6],[53.7,1],[64.2,28.2],[72,25],[82.6,34.2],[99.5,7],[112.4,26.4],[129.8,56.7],[149,52.4],[160.5,55.5],[172,43.3],[186.7,28.2],[197.2,46.4],[208.7,37.3],[222.5,42],[235.3,38.5],[247.7,32.4],[263.8,40.3],[275.2,34.2],[289,44.5],[300,42]];
const w110610: Pt[] = [[-99.5,76.7],[-90.4,44.5],[-82.6,50.6],[-75.7,44.5],[-64.2,50.6],[-58.3,50.6],[-50.5,60.3],[-42.7,44.5],[-33.5,52.4],[-26,48.2],[-18.3,58.5],[-9.2,42],[0,48.2],[9.2,37.3],[18.3,61.5],[29.8,36],[42.7,100],[49,73.6],[58.3,11.8],[68.8,48.2],[82.6,50.6],[91.7,25],[104,1],[119.3,52.4],[133,64.5],[142.2,55.5],[153.7,64.5],[165,62.7],[174.3,55.5],[181,61.5],[189.4,40.3],[198.6,56.7],[207.8,38.5],[217,46.4],[226,32.4],[235.3,48.2],[247.7,40.3],[255.5,38.5],[264.7,52.4],[273,37.3],[284.4,58.5],[293.6,40.3],[300,31.2]];

const w110613: Pt[] = [[-100,41.7],[-94,46.2],[-84,37.9],[-73.8,31.8],[-63,45],[-54,33],[-43,53],[-35,36.7],[-26,35.6],[-13.8,26.5],[-4.6,31.8],[3.7,50],[12,38.6],[22,51.9],[30.3,29],[42.8,100],[48.7,80.3],[62.5,0],[76,25.4],[86.4,26.5],[100,0],[111.7,12],[123,48],[130,44.3],[139,63.3],[148,50.8],[157.7,58.3],[169,50],[179.3,39.4],[188.5,46.2],[197.7,29],[206,43.2],[216,31.8],[226.7,40.5],[243.7,33],[252,34],[261,28],[272.4,46.2],[280,40.5],[289.4,46.2],[300,33]];
const w110623: Pt[] = [[-99.5,35.6],[-91.7,35.6],[-82.6,31],[-70,47],[-62,41.7],[-53.7,42.4],[-42.7,33],[-29.8,41.7],[-18.3,31],[-4.6,38.6],[4.6,35.6],[16,27.3],[27.5,16],[34.4,38.6],[42.2,100],[49,65],[57.3,0],[65.6,19.7],[73.4,36.4],[84.9,19],[99.5,0],[110,22.7],[123.9,46.2],[140,55.7],[148,54.5],[155.9,59.5],[168.3,41.7],[177.5,42.4],[197.2,33],[211,43.2],[222.5,35.6],[231,35.6],[241,40.5],[253.7,29.2],[264.7,34.8],[277.5,38.6],[286.7,34],[300,40.5]];
const w110629: Pt[] = [[-99.5,24.2],[-92.7,46.2],[-83.5,40.5],[-74.3,52],[-65,39.4],[-56,50],[-47.7,33],[-40,50],[-32,41.7],[-23,54.5],[-14.7,41.7],[-6.4,47],[3.7,31.8],[12.8,43.2],[23,50.8],[32,33],[44,100],[50.5,80.3],[57.8,22.7],[67.9,20.5],[78,46.2],[87.2,17.8],[101,0],[113.8,30.3],[126.6,43.2],[134.4,44.3],[143.6,69.7],[152.8,52],[162,69],[172.5,52],[180.3,53.8],[189.4,44.3],[201.8,31.8],[211,46.2],[218.3,36.7],[227.5,50],[236.7,36.7],[246.8,50.8],[258.3,44.3],[268.8,34.8],[278,45.5],[288,33],[300,46.2]];

// events in reading order, 7 per row
const labels = [
  "041005", "041006", "041105", "050404", "050518", "050520", "050526",
  "050921", "060419", "060828", "061103", "061106", "061110", "061114",
  "061207", "061212", "061218", "070104", "070412", "070418", "070815",
  "070817", "070827", "070828", "070906", "070926", "071015", "071016",
  "071017", "071018", "071024", "071026", "071114", "071121", "071128",
  "080212", "080213", "080225", "080627", "081201", "090205", "090310",
  "090511", "090618", "110404", "110405", "110406", "110408", "110414",
  "110420", "110422", "110425", "110606", "110607", "110609", "110610",
  "110613", "110623", "110629",
];
const traces: Pt[][] = [
  w041005, w041006, w041105, w050404, w050518, w050520, w050526,
  w050921, w060419, w060828, w061103, w061106, w061110, w061114,
  w061207, w061212, w061218, w070104, w070412, w070418, w070815,
  w070817, w070827, w070828, w070906, w070926, w071015, w071016,
  w071017, w071018, w071024, w071026, w071114, w071121, w071128,
  w080212, w080213, w080225, w080627, w081201, w090205, w090310,
  w090511, w090618, w110404, w110405, w110406, w110408, w110414,
  w110420, w110422, w110425, w110606, w110607, w110609, w110610,
  w110613, w110623, w110629,
];
const timeTicks = [-0.1, 0, 0.1, 0.2, 0.3];

const App = () => {
  const svgRef = useRef<SVGSVGElement | null>(null);

  useEffect(() => {
    const svg = d3.select(svgRef.current);
    svg.selectAll("*").remove();

    const nCols = 7;
    const left0 = 390;
    const colStep = 344.2;
    const panelW = 290.5;
    const top0 = 99;
    const rowStep = 104.6;
    const panelH = 88.5;
    const lastRow = Math.floor((labels.length - 1) / nCols);
    const font = "'Liberation Sans', Arial, Helvetica, sans-serif";

    labels.forEach((label, i) => {
      const row = Math.floor(i / nCols);
      const col = i % nCols;
      const x0 = left0 + col * colStep;
      const y0 = top0 + row * rowStep;

      const x = d3.scaleLinear().domain([-0.1, 0.3]).range([x0, x0 + panelW]);
      const y = d3.scaleLinear().domain([0, 100]).range([y0 + panelH, y0]);

      const g = svg.append("g");

      const line = d3
        .line<Pt>()
        .x((d) => x(d[0] / 1000))
        .y((d) => y(d[1]))
        .curve(d3.curveMonotoneX);

      g.append("path")
        .datum(traces[i])
        .attr("d", line)
        .attr("fill", "none")
        .attr("stroke", "#0072BD")
        .attr("stroke-width", 1.3);

      // onset marker
      g.append("line")
        .attr("x1", x(0))
        .attr("x2", x(0))
        .attr("y1", y(100))
        .attr("y2", y(0))
        .attr("stroke", "#ff2020")
        .attr("stroke-width", 1.5);

      g.append("text")
        .attr("x", x0 - 26.7)
        .attr("y", y0 + 12.7)
        .attr("font-family", font)
        .attr("font-size", 14.3)
        .attr("font-weight", "bold")
        .attr("fill", "#000")
        .text(label);

      if (row === lastRow) {
        const axis = d3
          .axisBottom(x)
          .tickValues(timeTicks)
          .tickFormat((d) => String(d))
          .tickSizeInner(-3)
          .tickSizeOuter(0)
          .tickPadding(9.5);

        const ax = g
          .append("g")
          .attr("transform", `translate(0,${y0 + panelH})`)
          .call(axis);
        ax.attr("font-family", font).attr("font-size", 16);
        ax.select(".domain").attr("stroke", "#262626");
        ax.selectAll(".tick line").attr("stroke", "#262626");
        ax.selectAll(".tick text").attr("fill", "#262626");

        g.append("text")
          .attr("x", x0 + panelW / 2)
          .attr("y", y0 + panelH + 44.3)
          .attr("text-anchor", "middle")
          .attr("font-family", font)
          .attr("font-size", 17.6)
          .attr("fill", "#262626")
          .text("Time");
      }
    });
  }, []);

  return (
    <svg
      ref={svgRef}
      width={3000}
      height={1505}
      style={{ position: "absolute", left: 0, top: 0, background: "#fff" }}
    />
  );
};

export default App;
